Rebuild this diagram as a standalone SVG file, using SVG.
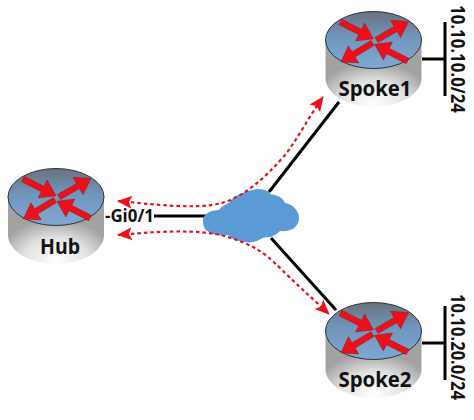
<svg xmlns="http://www.w3.org/2000/svg" xmlns:xlink="http://www.w3.org/1999/xlink" width="474" height="420" viewBox="0 0 474 420">
<style>
text{font-family:"Open Sans","Liberation Sans",sans-serif;font-weight:700;fill:#111}
.link{stroke:#000;stroke-width:3;fill:none}
.flow{stroke:#e8101c;stroke-width:2.200;stroke-dasharray:3.500 3;fill:none;marker-start:url(#ah);marker-end:url(#ah)}
.name{font-size:22px;text-anchor:middle}
.net{font-size:19px}
</style>
<defs>
<radialGradient id="side" cx=".5" cy=".95" r=".62"><stop offset="0" stop-color="#ffffff"/><stop offset=".55" stop-color="#e2e2e2"/><stop offset="1" stop-color="#a2a2a2"/></radialGradient>
<linearGradient id="top" x1="0" x2="0" y1="0" y2="1"><stop offset="0" stop-color="#6a727b"/><stop offset=".45" stop-color="#7096bd"/><stop offset="1" stop-color="#7fa8d2"/></linearGradient>
<marker id="ah" viewBox="0 0 15 13" refX="14" refY="6.500" markerWidth="15" markerHeight="13" markerUnits="userSpaceOnUse" orient="auto-start-reverse"><path d="M0 0L15 6.500L0 13L3 6.500Z" fill="#f20d18"/></marker>
<path id="arw" d="M0-3H22V-10L37 0L22 10V3H0Z" fill="#ee0f1a" stroke="#7a1a20" stroke-width=".4"/>
<g id="router">
<path d="M-48 0V38A48 29 0 0 0 48 38V0Z" fill="url(#side)"/>
<ellipse rx="48" ry="28.500" fill="url(#top)" stroke="#2b3340" stroke-width="1"/>
<use xlink:href="#arw" href="#arw" transform="translate(3 0) rotate(-30)"/>
<use xlink:href="#arw" href="#arw" transform="translate(-1 3) rotate(149)"/>
<use xlink:href="#arw" href="#arw" transform="translate(-33 -18) rotate(27)"/>
<use xlink:href="#arw" href="#arw" transform="translate(34 21) rotate(207)"/>
</g>
</defs>
<g id="connectors">
<path class="link" d="M154 216H206"/>
<path class="link" d="M269 192L339 102"/>
<path class="link" d="M271 238L336 310"/>
<path class="link" d="M422 59H445M445 22V96"/>
<path class="link" d="M422 343H445M445 306V380"/>
</g>
<g id="cloud"><path fill="#5b9bd5" d="M203 221C203 214 210 210 219 210C222 206 226 204 229 203C232 197 243 191 257 189C266 189 270 192 270 194C275 195 282 196 285 203C293 204 299 211 299 218C299 227 291 232 280 231C276 235 271 237 270 237C265 237 262 238 259 240C254 243 245 243 240 241C235 241 232 238 228 235C220 237 212 234 207 231C204 229 203 225 203 221Z"/></g>
<g id="flows">
<path class="flow" d="M118 201C150 204 195 210 222 203C245 196 265 178 285 155C297 140 310 115 323 97"/>
<path class="flow" d="M118 235C150 232 200 228 228 237C250 244 262 250 280 268C296 284 312 298 329 314"/>
</g>
<g id="hub"><use xlink:href="#router" href="#router" x="56" y="197"/><text class="name" x="60" y="254" textLength="40" lengthAdjust="spacingAndGlyphs">Hub</text></g>
<g id="spoke1"><use xlink:href="#router" href="#router" x="373.500" y="40"/><text class="name" x="375" y="96" textLength="73" lengthAdjust="spacingAndGlyphs">Spoke1</text></g>
<g id="spoke2"><use xlink:href="#router" href="#router" x="373.500" y="331"/><text class="name" x="375" y="387" textLength="73" lengthAdjust="spacingAndGlyphs">Spoke2</text></g>
<text x="105" y="222" font-size="17" textLength="49" lengthAdjust="spacingAndGlyphs">-Gi0/1</text>
<text class="net" transform="translate(451 5) rotate(90)" textLength="108" lengthAdjust="spacingAndGlyphs">10.10.10.0/24</text>
<text class="net" transform="translate(451 294) rotate(90)" textLength="106" lengthAdjust="spacingAndGlyphs">10.10.20.0/24</text>
</svg>
